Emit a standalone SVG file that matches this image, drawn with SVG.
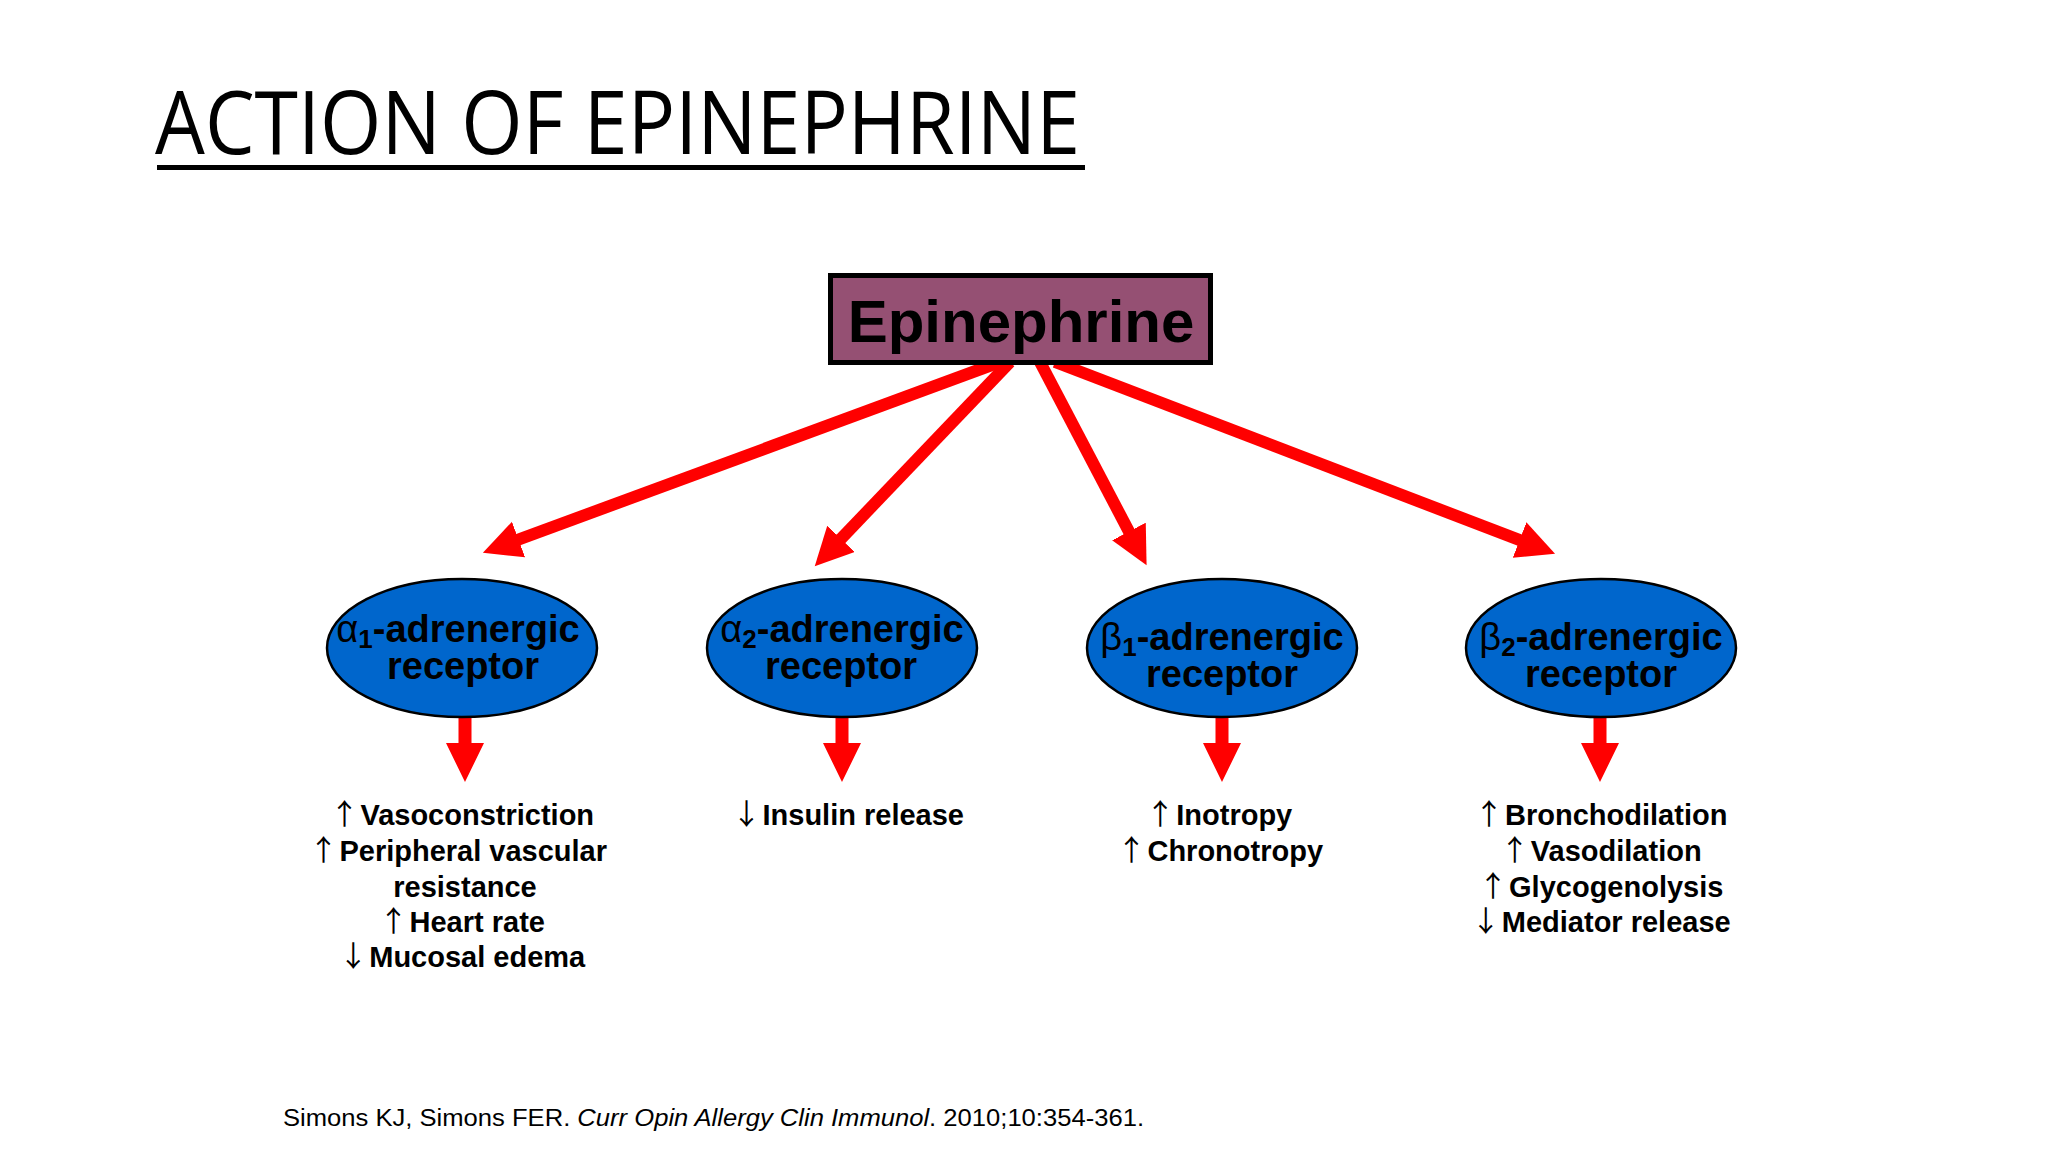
<svg xmlns="http://www.w3.org/2000/svg" width="2048" height="1152" viewBox="0 0 2048 1152">
<style>
.title{font-family:"Open Sans","Liberation Sans",sans-serif;font-size:87px;fill:#000}
.lbl{font-family:"Liberation Sans",Arial,sans-serif;font-weight:bold;fill:#000;text-anchor:middle}
.rec{font-size:38px}
.eff{font-size:29px}
.ar{font-weight:normal}
.ua{font-family:"Noto Sans CJK JP","Liberation Sans",sans-serif;font-weight:normal;word-spacing:-5px}
.conn{stroke:#FF0000;stroke-width:12;fill:none;marker-end:url(#ah)}
.ell{fill:#0066CC;stroke:#000;stroke-width:2.5}
.ref{font-family:"Liberation Sans",Arial,sans-serif;font-size:23px;fill:#000}
</style>
<defs>
<marker id="ah" markerUnits="userSpaceOnUse" markerWidth="40" markerHeight="40" refX="1" refY="19" orient="auto">
<path d="M0,0 L38,19 L0,38 z" fill="#FF0000"/>
</marker>
<path id="down" d="M-6.5,716 H6.5 V743 H19 L0,782 L-19,743 H-6.5 Z" fill="#FF0000"/>
</defs>
<rect width="2048" height="1152" fill="#FFFFFF"/>

<g id="title">
<text class="title" x="155" y="154" textLength="925" lengthAdjust="spacingAndGlyphs">ACTION OF EPINEPHRINE</text>
<rect x="157" y="165" width="928" height="5" fill="#000"/>
</g>

<g id="connectors">
<line class="conn" x1="1000" y1="362" x2="517.6" y2="539.9"/>
<line class="conn" x1="1010" y1="362" x2="840.3" y2="539.5"/>
<line class="conn" x1="1040" y1="362" x2="1129.4" y2="532.4"/>
<line class="conn" x1="1055" y1="362" x2="1520.5" y2="540.4"/>
<use href="#down" transform="translate(465,0)"/>
<use href="#down" transform="translate(842,0)"/>
<use href="#down" transform="translate(1222,0)"/>
<use href="#down" transform="translate(1600,0)"/>
</g>

<g id="epinephrine">
<rect x="830.5" y="275.5" width="380" height="87" fill="#955073" stroke="#000" stroke-width="5"/>
<text class="lbl" x="1021" y="342" font-size="60">Epinephrine</text>
</g>

<g id="alpha1">
<ellipse class="ell" cx="462" cy="648" rx="135" ry="69"/>
<text class="lbl rec" x="458" y="642"><tspan class="ar">α</tspan><tspan font-size="26" dy="6">1</tspan><tspan dy="-6">-adrenergic</tspan></text>
<text class="lbl rec" x="463" y="679">receptor</text>
</g>

<g id="alpha2">
<ellipse class="ell" cx="842" cy="648" rx="135" ry="69"/>
<text class="lbl rec" x="842" y="642"><tspan class="ar">α</tspan><tspan font-size="26" dy="6">2</tspan><tspan dy="-6">-adrenergic</tspan></text>
<text class="lbl rec" x="841" y="679">receptor</text>
</g>

<g id="beta1">
<ellipse class="ell" cx="1222" cy="648" rx="135" ry="69"/>
<text class="lbl rec" x="1222" y="650"><tspan class="ar">β</tspan><tspan font-size="26" dy="6">1</tspan><tspan dy="-6">-adrenergic</tspan></text>
<text class="lbl rec" x="1222" y="687">receptor</text>
</g>

<g id="beta2">
<ellipse class="ell" cx="1601" cy="648" rx="135" ry="69"/>
<text class="lbl rec" x="1601" y="650"><tspan class="ar">β</tspan><tspan font-size="26" dy="6">2</tspan><tspan dy="-6">-adrenergic</tspan></text>
<text class="lbl rec" x="1601" y="687">receptor</text>
</g>

<g id="alpha1-effects">
<text class="lbl eff" x="462" y="825"><tspan class="ua">↑ </tspan>Vasoconstriction</text>
<text class="lbl eff" x="458" y="861"><tspan class="ua">↑ </tspan>Peripheral vascular</text>
<text class="lbl eff" x="465" y="897">resistance</text>
<text class="lbl eff" x="462" y="932"><tspan class="ua">↑ </tspan>Heart rate</text>
<text class="lbl eff" x="462" y="967"><tspan class="ua">↓ </tspan>Mucosal edema</text>
</g>

<g id="alpha2-effects">
<text class="lbl eff" x="848" y="825"><tspan class="ua">↓ </tspan>Insulin release</text>
</g>

<g id="beta1-effects">
<text class="lbl eff" x="1219" y="825"><tspan class="ua">↑ </tspan>Inotropy</text>
<text class="lbl eff" x="1220" y="861"><tspan class="ua">↑ </tspan>Chronotropy</text>
</g>

<g id="beta2-effects">
<text class="lbl eff" x="1601" y="825"><tspan class="ua">↑ </tspan>Bronchodilation</text>
<text class="lbl eff" x="1601" y="861"><tspan class="ua">↑ </tspan>Vasodilation</text>
<text class="lbl eff" x="1601" y="897"><tspan class="ua">↑ </tspan>Glycogenolysis</text>
<text class="lbl eff" x="1601" y="932"><tspan class="ua">↓ </tspan>Mediator release</text>
</g>

<g id="reference">
<text class="ref" x="283" y="1126" textLength="861" lengthAdjust="spacingAndGlyphs">Simons KJ, Simons FER. <tspan font-style="italic">Curr Opin Allergy Clin Immunol</tspan>. 2010;10:354-361.</text>
</g>
</svg>
